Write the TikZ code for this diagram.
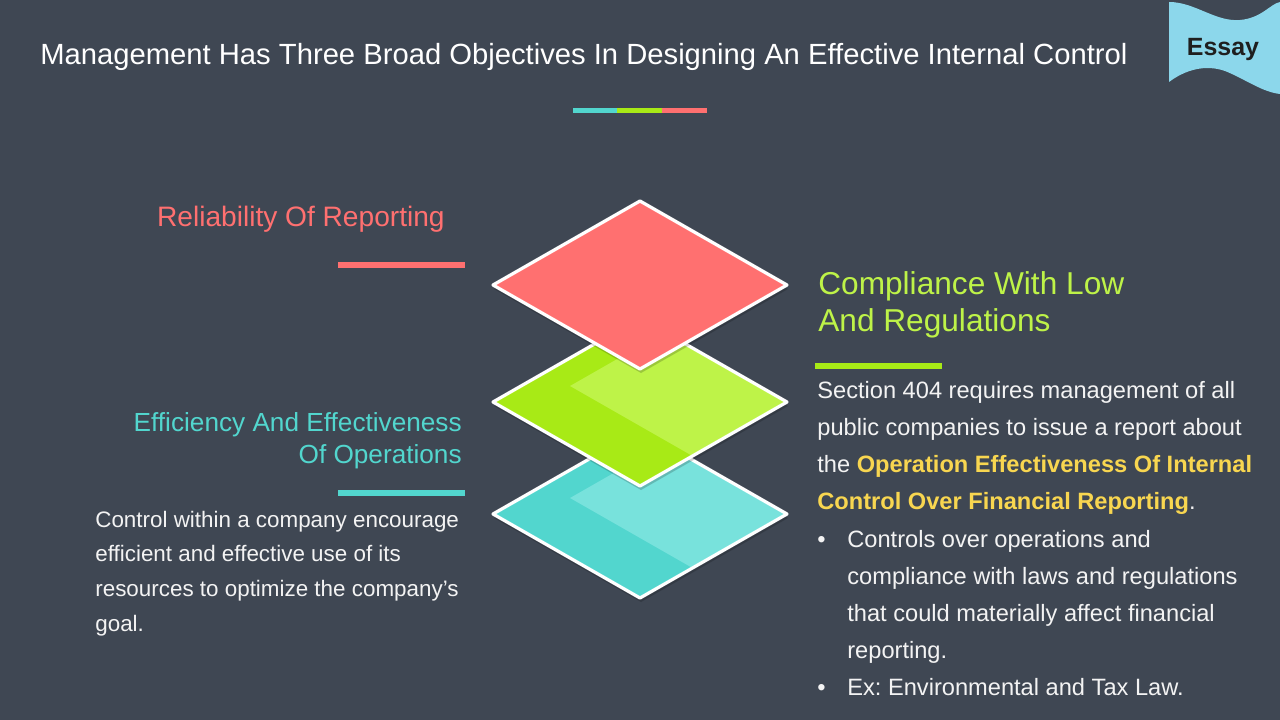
\documentclass[tikz,border=0pt]{standalone}
\usepackage{fontspec}
\setmainfont{Liberation Sans}
\frenchspacing
\definecolor{slate}{RGB}{63,71,83}
\definecolor{coral}{RGB}{255,112,112}
\definecolor{limedark}{RGB}{168,234,22}
\definecolor{limelight}{RGB}{190,243,72}
\definecolor{aquadark}{RGB}{82,214,206}
\definecolor{aqualight}{RGB}{120,226,220}
\definecolor{gold}{RGB}{248,214,80}
\definecolor{flag}{RGB}{140,215,235}
\definecolor{ink}{RGB}{243,243,243}
\begin{document}
\begin{tikzpicture}[x=0.2mm, y=-0.2mm, line join=round,
		heading/.style={inner sep=0pt},
		bodytext/.style={inner sep=0pt, align=left, text=ink},
		bar/.style={line width=1.1mm}]
		\fill[slate] (0,0) rectangle (1280,720);
		\useasboundingbox (0,0) rectangle (1280,720);
		% banner
		\fill[flag] (1169,2) .. controls (1195,2) and (1215,22) .. (1240,20) .. controls (1262,18) and (1270,4) .. (1280,2) -- (1280,94) .. controls (1262,92) and (1245,79) .. (1225,71) .. controls (1205,64) and (1185,70) .. (1169,82) -- cycle;
		\node[heading, anchor=base, text=black!88, font=\bfseries\fontsize{14.2}{17}\selectfont] (essay) at (1223,56) {Essay};
		% title
		\node[heading, anchor=base west, text=white, font=\fontsize{16.62}{20}\selectfont] (title) at (40,65) {Management Has Three Broad Objectives In Designing An Effective Internal Control};
		\foreach \a/\b/\c in {573/617/aquadark, 617/662/limedark, 662/707/coral}{
		\draw[\c, bar] (\a,110.5) -- (\b,110.5);
		}
		% stacked layers
		\foreach \cy/\dk/\lt in {514/aquadark/aqualight, 402/limedark/limelight, 285/coral/coral}{
		\fill[black, opacity=.18] (494,{\cy+4}) -- (641,{\cy-80}) -- (788,{\cy+4}) -- (641,{\cy+88}) -- cycle;
		\begin{scope}
			\clip (493,\cy) -- (640,{\cy-84}) -- (787,\cy) -- (640,{\cy+84}) -- cycle;
			\fill[\dk] (493,{\cy-84}) rectangle (787,{\cy+84});
			\fill[\lt] (570,{\cy-16}) -- (717,{\cy-100}) -- (864,{\cy-16}) -- (717,{\cy+68}) -- cycle;
		\end{scope}
		\draw[white, line width=0.65mm] (493,\cy) -- (640,{\cy-84}) -- (787,\cy) -- (640,{\cy+84}) -- cycle;
		}
		% left side
		\node[heading, anchor=base east, text=coral, font=\fontsize{16.0}{20}\selectfont] (reliab) at (445,227) {Reliability Of Reporting};
		\draw[coral, bar] (338,265) -- (465,265);
		\node[heading, anchor=north east, align=right, text=aquadark, font=\fontsize{14.9}{18.1}\selectfont] (effic) at (462,412.3) {Efficiency And Effectiveness\\Of Operations};
		\draw[aquadark, bar] (338,493) -- (465,493);
		\node[bodytext, anchor=north west, font=\fontsize{12.75}{19.8}\selectfont] (effictext) at (95,510.6) {Control within a company encourage\\efficient and effective use of its\\resources to optimize the company’s\\goal.};
		% right side
		\node[heading, anchor=north west, align=left, text=limelight, font=\fontsize{18}{21.5}\selectfont] (compl) at (818,270.9) {Compliance With Low\\And Regulations};
		\draw[limedark, bar] (815,366) -- (942,366);
		\node[bodytext, anchor=north west, font=\fontsize{13.45}{21.1}\selectfont] (compltext) at (817,380.7) {Section 404 requires management of all\\public companies to issue a report about\\the \textbf{\color{gold}Operation Effectiveness Of Internal}\\\textbf{\color{gold}Control Over Financial Reporting}.};
		\node[bodytext, anchor=north west, font=\fontsize{13.45}{21.1}\selectfont] (bullets) at (817,529.7) {\makebox[6mm][l]{\textbullet}Controls over operations and\\\hspace*{6mm}compliance with laws and regulations\\\hspace*{6mm}that could materially affect financial\\\hspace*{6mm}reporting.\\\makebox[6mm][l]{\textbullet}Ex: Environmental and Tax Law.};
	\end{tikzpicture}
\end{document}
